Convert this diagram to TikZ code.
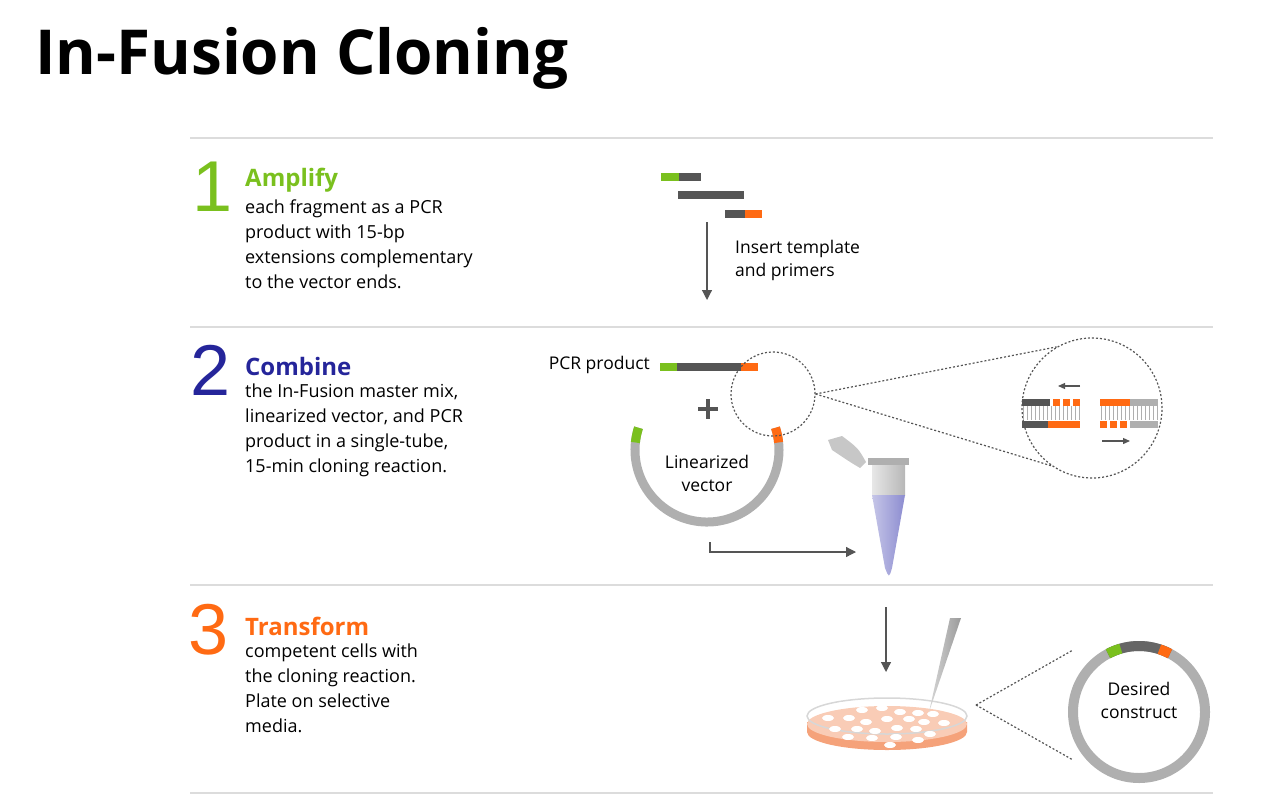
\documentclass[tikz,border=0pt]{standalone}
\usepackage{fontspec}
\setmainfont{Open Sans}
\usetikzlibrary{arrows.meta}
\definecolor{gr}{HTML}{7AC01E}
\definecolor{orn}{HTML}{FF6A13}
\definecolor{dk}{HTML}{555555}
\definecolor{lg}{HTML}{AFAFAF}
\definecolor{nv}{HTML}{25259A}
\definecolor{sep}{HTML}{DCDCDC}
\definecolor{dish}{HTML}{F5A27A}
\definecolor{tube}{HTML}{8C8CD0}
\tikzset{
  body/.style={anchor=west,font=\fontsize{18}{25}\selectfont,align=left,inner sep=0},
  lbl/.style={font=\fontsize{17.5}{23}\selectfont,align=center,inner sep=0},
  head/.style={anchor=west,font=\fontsize{24}{26}\selectfont\bfseries,inner sep=0},
  num/.style={anchor=west,font=\fontsize{72}{72}\selectfont\fontspec{Liberation Sans},inner sep=0},
  sepline/.style={sep,line width=2},
  arr/.style={dk,line width=1.2,-{Triangle[length=10,width=10]}},
  dot/.style={dk,dashed,dash pattern=on 2 off 2,line width=1.2},
  bar/.style={line width=8}
}
\begin{document}
\begin{tikzpicture}[x=1pt,y=-1pt]
\useasboundingbox (0,0) rectangle (1268,808);
\node[anchor=west,inner sep=0,font=\fontsize{62}{62}\selectfont\bfseries] (title) at (35,58) {In-Fusion Cloning};
\foreach \y in {138,327,585,793} \draw[sepline] (190,\y) -- (1213,\y);
% step 1
\node[num,gr] (n1) at (192,187) {1};
\node[head,gr] (h1) at (245,180) {Amplify};
\node[body,anchor=north west] (t1) at (245,200) {each fragment as a PCR\\product with 15-bp\\extensions complementary\\to the vector ends.};
\draw[bar,gr] (661,177) -- (679,177); \draw[bar,dk] (679,177) -- (701,177);
\draw[bar,dk] (678,195) -- (744,195);
\draw[bar,dk] (725,214) -- (745,214); \draw[bar,orn] (745,214) -- (762,214);
\coordinate (a1s) at (707,222); \coordinate (a1e) at (707,300);
\draw[arr] (a1s) -- (a1e);
\node[lbl,anchor=west,align=left] (ins) at (735,260) {Insert template\\and primers};
% step 2
\node[num,nv] (n2) at (190,370) {2};
\node[head,nv] (h2) at (245,366) {Combine};
\node[body,anchor=north west] (t2) at (245,384) {the In-Fusion master mix,\\linearized vector, and PCR\\product in a single-tube,\\15-min cloning reaction.};
\node[lbl,anchor=east] (pcr) at (650,365) {PCR product};
\draw[bar,gr] (660,367) -- (677,367); \draw[bar,dk] (677,367) -- (741,367); \draw[bar,orn] (741,367) -- (758,367);
\node[inner sep=0] (plus) at (708,409) {};
\draw[dk,line width=4] (698,409) -- (718,409) (708,399) -- (708,419);
\draw[lg,line width=9] (707,450) ++(198:72) arc[start angle=198,delta angle=-216,radius=72];
\draw[gr,line width=9] (707,450) ++(198:72) arc[start angle=198,delta angle=-12,radius=72];
\draw[orn,line width=9] (707,450) ++(-18:72) arc[start angle=-18,delta angle=12,radius=72];
\node[lbl] (lin) at (707,473) {Linearized\\vector};
\node[circle,dot,draw,minimum size=84,inner sep=0] (zc) at (773,394) {};
\node[circle,dot,draw,minimum size=140,inner sep=0] (bz) at (1092,408) {};
\draw[dot] (zc.east) -- (bz.120);
\draw[dot] (zc.east) -- (bz.235);
% strands
\begin{scope}[line width=7]
\draw[dk] (1022,402) -- (1050,402);
\foreach \x in {1053,1063,1073} \draw[orn] (\x,402) -- (\x+7,402);
\draw[dk] (1022,424) -- (1048,424); \draw[orn] (1048,424) -- (1080,424);
\draw[orn] (1100,402) -- (1130,402); \draw[lg] (1130,402) -- (1158,402);
\foreach \x in {1100,1110,1120} \draw[orn] (\x,424) -- (\x+7,424);
\draw[lg] (1130,424) -- (1158,424);
\end{scope}
\foreach \x in {1023,1027,...,1079} \draw[lg,line width=1] (\x,406) -- (\x,420);
\foreach \x in {1101,1105,...,1157} \draw[lg,line width=1] (\x,406) -- (\x,420);
\coordinate (la) at (1080,386); \coordinate (lb) at (1058,386);
\draw[dk,line width=1.2,-{Triangle[length=7,width=6]}] (la) -- (lb);
\coordinate (ra) at (1102,441); \coordinate (rb) at (1130,441);
\draw[dk,line width=1.2,-{Triangle[length=7,width=6]}] (ra) -- (rb);
% tube
\fill[lg!70] (866,462) .. controls (858,448) .. (842,436) -- (828,440) -- (832,450) .. controls (850,462) .. (860,468) -- cycle;
\shade[left color=lg!30,right color=lg!90] (872,462) rectangle (905,495);
\shade[left color=tube!50,right color=tube] (872,495) -- (905,495) -- (892,568) .. controls (889,578) .. (885,568) -- cycle;
\fill[lg] (868,458) rectangle (909,465);
\coordinate (b1) at (710,542); \coordinate (b2) at (710,552); \coordinate (b3) at (856,552);
\draw[arr] (b1) -- (b2) -- (b3);
% step 3
\node[num,orn] (n3) at (188,630) {3};
\node[head,orn] (h3) at (245,626) {Transform};
\node[body,anchor=north west] (t3) at (245,644) {competent cells with\\the cloning reaction.\\Plate on selective\\media.};
\coordinate (c1) at (886,607); \coordinate (c2) at (886,672);
\draw[arr] (c1) -- (c2);
\fill[dish] (807,722) -- (807,732) arc[start angle=180,end angle=0,x radius=80,y radius=18] -- (967,722) -- cycle;
\fill[dish!55] (887,724) ellipse[x radius=80,y radius=18];
\draw[lg!50,line width=1.5] (887,716) ellipse[x radius=80,y radius=18];
\foreach \px/\py in {843/705, 862/710, 882/708, 900/712, 918/713, 933/714, 828/718, 849/718, 866/722, 887/719, 909/719, 924/722, 944/723, 835/729, 857/729, 875/731, 897/728, 916/729, 930/734, 848/737, 872/738, 896/737, 918/740, 890/745}
  \fill[white] (\px,\py) ellipse[x radius=6,y radius=3];
\shade[left color=lg!50,right color=dk!60] (950,618) -- (961,618) -- (929,712) -- cycle;
\node[circle,draw=lg,line width=10,minimum size=132,inner sep=0] (dc) at (1139,712) {};
\draw[dk!90,line width=10] (1139,712) ++(-118:66) arc[start angle=-118,end angle=-62,radius=66];
\draw[gr,line width=10] (1139,712) ++(-118:66) arc[start angle=-118,end angle=-106,radius=66];
\draw[orn,line width=10] (1139,712) ++(-72:66) arc[start angle=-72,end angle=-62,radius=66];
\node[lbl] (dl) at (1139,700) {Desired\\construct};
\coordinate (dp) at (976,705);
\draw[dot] (dp) -- (1073,650);
\draw[dot] (dp) -- (1073,760);
\end{tikzpicture}
\end{document}
